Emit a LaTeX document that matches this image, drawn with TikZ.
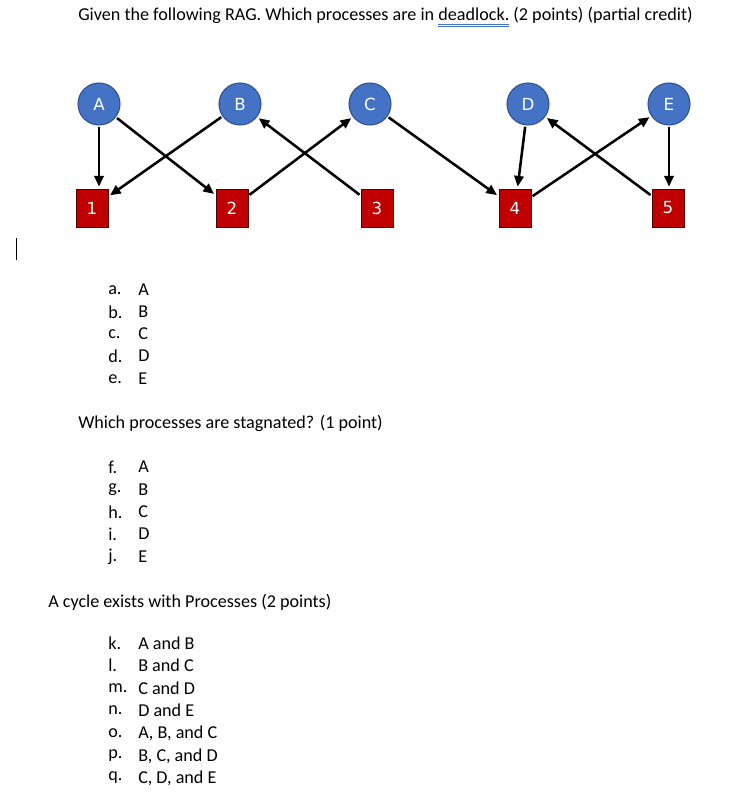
\documentclass[tikz,border=0pt]{standalone}
\usepackage{fontspec}
\setmainfont{Carlito}
\newfontfamily\nodefont{DejaVu Sans}
\usetikzlibrary{arrows.meta}
\definecolor{pblue}{RGB}{68,114,196}
\definecolor{pbord}{RGB}{47,82,143}
\definecolor{rred}{RGB}{192,0,0}
\newcommand\mybluline[1]{{\setbox0\hbox{#1}\rlap{\color{pblue}\rule[-2.6pt]{\wd0}{0.5pt}}\rlap{\color{pblue}\rule[-4pt]{\wd0}{0.5pt}}\box0}}
\begin{document}
\begin{tikzpicture}[x=0.75pt,y=-0.75pt,
  proc/.style={circle,fill=pblue,draw=pbord,line width=0.8pt,minimum size=31.5pt,inner sep=0pt,text=white,font=\nodefont\fontsize{12.5}{14}\selectfont},
  res/.style={rectangle,fill=rred,draw=black!70!red,line width=0.6pt,minimum width=24pt,minimum height=28.5pt,inner sep=0pt,text=white,font=\nodefont\fontsize{12.5}{14}\selectfont},
  edge/.style={-{Triangle[length=8pt,width=7pt]},line width=1.9pt,shorten <=1pt,shorten >=1.5pt},
  txt/.style={anchor=west,inner sep=0pt,font=\fontsize{13.6}{16}\selectfont}]
\useasboundingbox (0,0) rectangle (728,802);
\node[proc] (A) at (99,104) {A};
\node[proc] (B) at (240,104) {B};
\node[proc] (C) at (370,104) {C};
\node[proc] (D) at (528,104) {D};
\node[proc] (E) at (669,104) {E};
\node[res] (r1) at (92,208) {1};
\node[res] (r2) at (232,208) {2};
\node[res] (r3) at (377,208) {3};
\node[res] (r4) at (515,208) {4};
\node[res] (r5) at (668,208) {5};
\draw[edge] (A.south) -- (A.south |- r1.north);
\draw[edge] (A) -- (r2);
\draw[edge] (B) -- (r1);
\draw[edge] (r2) -- (C);
\draw[edge] (r3) -- (B);
\draw[edge] (C) -- (r4);
\draw[edge] (D) -- (r4);
\draw[edge] (r4) -- (E);
\draw[edge] (r5) -- (D);
\draw[edge] (E.south) -- (E.south |- r5.north);
\node[txt] (title) at (78,17) {Given the following RAG. Which processes are in \mybluline{deadlock.} (2 points) (partial credit)};
\coordinate (cur1) at (16,238); \coordinate (cur2) at (16,260);
\draw[line width=0.6pt] (cur1) -- (cur2);
\foreach \l/\t/\y [count=\i] in {a./A/290,b./B/312,c./C/334,d./D/356,e./E/379,
  f./A/467,g./B/490,h./C/512,i./D/534,j./E/557,
  k./A and B/643,l./B and C/665,m./C and D/688,n./D and E/710,o./{A, B, and C}/733,p./{B, C, and D}/756,q./{C, D, and E}/778}{
  \node[txt] (lab\i) at (108,\y) {\l};
  \node[txt] (it\i) at (138,\y) {\t};
}
\node[txt] (q2) at (78,423) {Which processes are stagnated? (1 point)};
\node[txt] (q3) at (48,602) {A cycle exists with Processes (2 points)};
\end{tikzpicture}
\end{document}
